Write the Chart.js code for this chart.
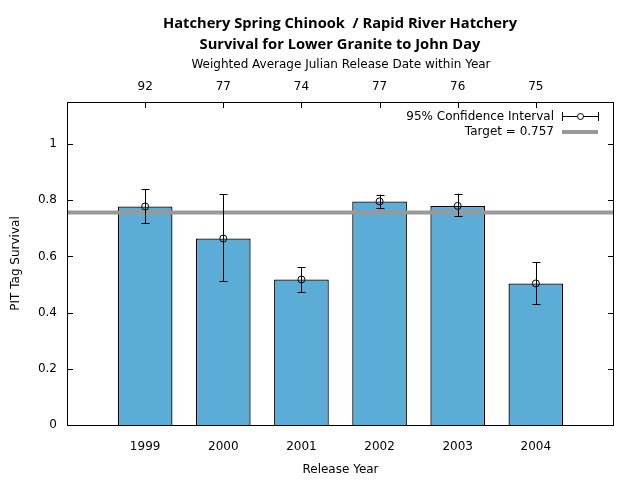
<!DOCTYPE html>
<html><head><meta charset="utf-8">
<script src="https://cdn.jsdelivr.net/npm/chart.js@4/dist/chart.umd.min.js"></script>
<style>html,body{margin:0;padding:0;background:#fff}#wrap{width:640px;height:480px}</style>
</head><body><div id="wrap"><canvas id="c"></canvas></div>
<script>
const years = [1999, 2000, 2001, 2002, 2003, 2004];
const survival = [0.778, 0.664, 0.518, 0.796, 0.780, 0.504];
const ciLower = [0.719, 0.511, 0.472, 0.771, 0.744, 0.431];
const ciUpper = [0.840, 0.821, 0.561, 0.820, 0.824, 0.579];
const releaseDates = ['92', '77', '74', '77', '76', '75'];
const target = 0.757;
const yTicks = [0, 0.2, 0.4, 0.6, 0.8, 1];
const xRange = [1998, 2005];
const titleLines = ['Hatchery Spring Chinook  / Rapid River Hatchery', 'Survival for Lower Granite to John Day'];
const subtitleText = 'Weighted Average Julian Release Date within Year';

const FONT = '"DejaVu Sans", sans-serif';
const TFONT = '"Open Sans", "DejaVu Sans", sans-serif';

const decor = {
  id: 'decor',
  beforeDatasetsDraw(chart) {
    const ctx = chart.ctx, a = chart.chartArea;
    const x = chart.scales.x;
    ctx.save();
    ctx.strokeStyle = '#000'; ctx.lineWidth = 1;
    ctx.beginPath();
    years.forEach(v => { const px = Math.round(x.getPixelForValue(v)) + 0.5; ctx.moveTo(px, a.bottom); ctx.lineTo(px, a.bottom - 6); });
    ctx.stroke();
    ctx.restore();
  },
  afterDatasetsDraw(chart) {
    const ctx = chart.ctx, a = chart.chartArea;
    const x = chart.scales.x, y = chart.scales.y;
    ctx.save();
    ctx.strokeStyle = '#000'; ctx.lineWidth = 1;
    ctx.beginPath();
    years.forEach((v, i) => {
      const px = Math.round(x.getPixelForValue(v)) + 0.5;
      const lo = y.getPixelForValue(ciLower[i]), hi = y.getPixelForValue(ciUpper[i]);
      ctx.moveTo(px, lo); ctx.lineTo(px, hi);
      ctx.moveTo(px - 4, Math.round(lo) + 0.5); ctx.lineTo(px + 4, Math.round(lo) + 0.5);
      ctx.moveTo(px - 4, Math.round(hi) + 0.5); ctx.lineTo(px + 4, Math.round(hi) + 0.5);
    });
    ctx.stroke();
    ctx.beginPath();
    years.forEach(v => { const px = Math.round(x.getPixelForValue(v)) + 0.5; ctx.moveTo(px, a.top); ctx.lineTo(px, a.top + 6); });
    yTicks.forEach(v => {
      const py = Math.round(y.getPixelForValue(v)) + 0.5;
      ctx.moveTo(a.left, py); ctx.lineTo(a.left + 6, py);
      ctx.moveTo(a.right, py); ctx.lineTo(a.right - 6, py);
    });
    ctx.stroke();
    ctx.strokeRect(Math.round(a.left) + 0.5, Math.round(a.top) + 0.5, Math.round(a.right - a.left) - 1, Math.round(a.bottom - a.top));
    ctx.fillStyle = '#000';
    ctx.font = '12px ' + FONT;
    ctx.textAlign = 'right'; ctx.textBaseline = 'middle';
    const lx = a.right - 60, ly1 = a.top + 14, ly2 = a.top + 29;
    ctx.fillText('95% Confidence Interval', lx, ly1 + 1);
    ctx.fillText('Target = ' + target, lx, ly2 + 1);
    ctx.beginPath();
    ctx.moveTo(lx + 8, ly1 + 0.5); ctx.lineTo(lx + 44, ly1 + 0.5);
    ctx.moveTo(lx + 8.5, ly1 - 4); ctx.lineTo(lx + 8.5, ly1 + 5);
    ctx.moveTo(lx + 44.5, ly1 - 4); ctx.lineTo(lx + 44.5, ly1 + 5);
    ctx.stroke();
    ctx.beginPath(); ctx.arc(lx + 26.5, ly1 + 0.5, 3, 0, Math.PI * 2); ctx.fillStyle = '#fff'; ctx.fill(); ctx.stroke();
    ctx.strokeStyle = '#999999'; ctx.lineWidth = 4;
    ctx.beginPath(); ctx.moveTo(lx + 8, ly2 + 1); ctx.lineTo(lx + 44, ly2 + 1); ctx.stroke();
    ctx.fillStyle = '#000'; ctx.textAlign = 'center'; ctx.textBaseline = 'middle';
    ctx.font = 'bold 14.7px ' + TFONT;
    ctx.fillText(titleLines[0], 340, 24);
    ctx.fillText(titleLines[1], 340, 45);
    ctx.font = '12px ' + FONT;
    ctx.fillText(subtitleText, 341, 65);
    ctx.restore();
  }
};

new Chart(document.getElementById('c'), {
  data: {
    datasets: [
      { type: 'scatter', data: years.map((v, i) => ({ x: v, y: survival[i] })), pointStyle: 'circle', pointRadius: 3.5,
        pointBorderColor: '#000', pointBackgroundColor: 'rgba(0,0,0,0)', pointBorderWidth: 1, order: 1 },
      { type: 'line', data: xRange.map(v => ({ x: v, y: target })), borderColor: '#999999', borderWidth: 4, pointRadius: 0, order: 2 },
      { type: 'bar', data: years.map((v, i) => ({ x: v, y: survival[i] })), backgroundColor: '#5BACD6', borderColor: '#000',
        borderWidth: 1.3, barPercentage: 0.7, categoryPercentage: 1, order: 3 }
    ]
  },
  options: {
    responsive: true, maintainAspectRatio: false, animation: false,
    layout: { padding: 0 },
    plugins: { legend: { display: false }, tooltip: { enabled: false }, title: { display: false } },
    scales: {
      x: { type: 'linear', position: 'bottom', min: xRange[0], max: xRange[1], offset: false,
        grid: { display: false, drawTicks: false }, border: { display: false },
        afterBuildTicks: s => { s.ticks = years.map(v => ({ value: v })); },
        ticks: { color: '#000', font: { family: FONT, size: 12 }, padding: 15, maxRotation: 0, autoSkip: false, callback: v => String(v) },
        title: { display: true, text: 'Release Year', color: '#000', font: { family: FONT, size: 12 }, padding: { top: 4, bottom: 3 } },
        afterFit: s => { s.height = 55; } },
      x2: { type: 'linear', position: 'top', min: xRange[0], max: xRange[1], offset: false,
        grid: { display: false, drawTicks: false }, border: { display: false },
        afterBuildTicks: s => { s.ticks = years.map(v => ({ value: v })); },
        ticks: { color: '#000', font: { family: FONT, size: 12 }, padding: 8, maxRotation: 0, autoSkip: false,
          callback: v => releaseDates[years.indexOf(v)] },
        afterFit: s => { s.height = 102; } },
      y: { type: 'linear', position: 'left', min: 0, max: 1.15,
        grid: { display: false, drawTicks: false }, border: { display: false },
        afterBuildTicks: s => { s.ticks = yTicks.map(v => ({ value: v })); },
        ticks: { color: '#000', font: { family: FONT, size: 12 }, padding: 10, callback: v => String(v) },
        title: { display: true, text: 'PIT Tag Survival', color: '#000', font: { family: FONT, size: 12 }, padding: { top: 9, bottom: 5 } },
        afterFit: s => { s.width = 67; } },
      y2: { type: 'linear', position: 'right', min: 0, max: 1.15, display: true,
        grid: { display: false, drawTicks: false }, border: { display: false },
        ticks: { display: false }, afterFit: s => { s.width = 26; } }
    }
  },
  plugins: [decor]
});
</script></body></html>
